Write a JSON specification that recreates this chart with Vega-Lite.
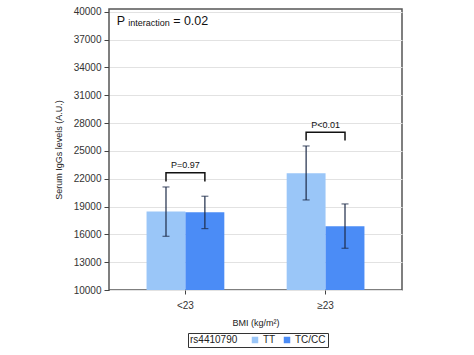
{
  "$schema": "https://vega.github.io/schema/vega-lite/v6.json",
  "width": 293,
  "height": 281,
  "autosize": {"type": "none"},
  "padding": {"left": 109, "top": 9, "right": 72, "bottom": 65},
  "background": "white",
  "config": {
    "font": "Liberation Sans",
    "view": {"stroke": "#555", "strokeWidth": 1.5},
    "axis": {"labelColor": "#333", "titleColor": "#222", "labelFontSize": 10, "titleFontSize": 9, "titleFontWeight": "normal", "domain": false, "tickColor": "#444"},
    "axisY": {"grid": true, "gridColor": "#e2e2e2", "labelOverlap": false, "format": "d", "tickSize": 5, "labelPadding": 3, "titlePadding": 10},
    "axisX": {"labelAngle": 0, "labelPadding": 6, "tickSize": 4, "titlePadding": 8, "grid": false}
  },
  "datasets": {
    "bars": [
      {"bmi": "<23", "geno": "TT", "mean": 18460, "lo": 15790, "hi": 21110},
      {"bmi": "<23", "geno": "TC/CC", "mean": 18380, "lo": 16620, "hi": 20110},
      {"bmi": "≥23", "geno": "TT", "mean": 22590, "lo": 19710, "hi": 25530},
      {"bmi": "≥23", "geno": "TC/CC", "mean": 16870, "lo": 14500, "hi": 19280}
    ],
    "brackets": [
      {"bmi": "<23", "geno": "TT", "ord": 1, "val": 21700},
      {"bmi": "<23", "geno": "TT", "ord": 2, "val": 22640},
      {"bmi": "<23", "geno": "TC/CC", "ord": 3, "val": 22640},
      {"bmi": "<23", "geno": "TC/CC", "ord": 4, "val": 21700},
      {"bmi": "≥23", "geno": "TT", "ord": 1, "val": 26120},
      {"bmi": "≥23", "geno": "TT", "ord": 2, "val": 27010},
      {"bmi": "≥23", "geno": "TC/CC", "ord": 3, "val": 27010},
      {"bmi": "≥23", "geno": "TC/CC", "ord": 4, "val": 26120}
    ],
    "plabels": [
      {"bmi": "<23", "val": 23460, "label": "P=0.97"},
      {"bmi": "≥23", "val": 27840, "label": "P<0.01"}
    ]
  },
  "layer": [
    {
      "data": {"name": "bars"},
      "mark": {"type": "bar", "clip": true},
      "encoding": {
        "x": {"field": "bmi", "type": "nominal", "sort": ["<23", "≥23"],
              "scale": {"paddingInner": 0.445, "paddingOuter": 0.268},
              "axis": {"title": "BMI (kg/m²)"}},
        "xOffset": {"field": "geno", "type": "nominal", "sort": ["TT", "TC/CC"], "scale": {"paddingInner": 0, "paddingOuter": 0}},
        "y": {"field": "mean", "type": "quantitative",
              "scale": {"domain": [10000, 40300], "nice": false, "zero": false},
              "axis": {"title": "Serum IgGs levels (A.U.)", "values": [10000, 13000, 16000, 19000, 22000, 25000, 28000, 31000, 34000, 37000, 40000], "labelOverlap": false, "grid": true}},
        "color": {"field": "geno", "type": "nominal", "sort": ["TT", "TC/CC"],
                  "scale": {"domain": ["TT", "TC/CC"], "range": ["#9ac6f8", "#4b8cf6"]},
                  "legend": {"title": "rs4410790", "orient": "none", "legendX": 79, "legendY": 324, "direction": "horizontal", "titleOrient": "left", "titleFontSize": 10, "titleFontWeight": "normal", "titleColor": "#222", "labelFontSize": 10, "labelColor": "#222", "symbolType": "square", "symbolSize": 42, "symbolStrokeWidth": 0, "strokeColor": "#333", "padding": 2, "columnPadding": 6, "titlePadding": 12, "labelOffset": 3}}
      }
    },
    {
      "data": {"name": "bars"},
      "mark": {"type": "rule", "color": "#1d2b48", "strokeWidth": 1.2},
      "encoding": {
        "x": {"field": "bmi", "type": "nominal", "sort": ["<23", "≥23"], "axis": {"title": "BMI (kg/m²)"}},
        "xOffset": {"field": "geno", "type": "nominal", "sort": ["TT", "TC/CC"]},
        "y": {"field": "lo", "type": "quantitative", "axis": {"title": "Serum IgGs levels (A.U.)", "values": [10000, 13000, 16000, 19000, 22000, 25000, 28000, 31000, 34000, 37000, 40000], "labelOverlap": false, "grid": true}},
        "y2": {"field": "hi"}
      }
    },
    {
      "data": {"name": "bars"},
      "mark": {"type": "tick", "orient": "horizontal", "color": "#1d2b48", "size": 7, "thickness": 1.2},
      "encoding": {
        "x": {"field": "bmi", "type": "nominal", "sort": ["<23", "≥23"], "axis": {"title": "BMI (kg/m²)"}},
        "xOffset": {"field": "geno", "type": "nominal", "sort": ["TT", "TC/CC"]},
        "y": {"field": "lo", "type": "quantitative", "axis": {"title": "Serum IgGs levels (A.U.)", "values": [10000, 13000, 16000, 19000, 22000, 25000, 28000, 31000, 34000, 37000, 40000], "labelOverlap": false, "grid": true}}
      }
    },
    {
      "data": {"name": "bars"},
      "mark": {"type": "tick", "orient": "horizontal", "color": "#1d2b48", "size": 7, "thickness": 1.2},
      "encoding": {
        "x": {"field": "bmi", "type": "nominal", "sort": ["<23", "≥23"], "axis": {"title": "BMI (kg/m²)"}},
        "xOffset": {"field": "geno", "type": "nominal", "sort": ["TT", "TC/CC"]},
        "y": {"field": "hi", "type": "quantitative", "axis": {"title": "Serum IgGs levels (A.U.)", "values": [10000, 13000, 16000, 19000, 22000, 25000, 28000, 31000, 34000, 37000, 40000], "labelOverlap": false, "grid": true}}
      }
    },
    {
      "data": {"name": "brackets"},
      "mark": {"type": "line", "color": "#111", "strokeWidth": 1.5},
      "encoding": {
        "x": {"field": "bmi", "type": "nominal", "sort": ["<23", "≥23"], "axis": {"title": "BMI (kg/m²)"}},
        "xOffset": {"field": "geno", "type": "nominal", "sort": ["TT", "TC/CC"]},
        "y": {"field": "val", "type": "quantitative", "axis": {"title": "Serum IgGs levels (A.U.)", "values": [10000, 13000, 16000, 19000, 22000, 25000, 28000, 31000, 34000, 37000, 40000], "labelOverlap": false, "grid": true}},
        "detail": {"field": "bmi"},
        "order": {"field": "ord", "type": "quantitative"}
      }
    },
    {
      "data": {"name": "plabels"},
      "mark": {"type": "text", "fontSize": 9, "color": "#111", "baseline": "middle"},
      "encoding": {
        "x": {"field": "bmi", "type": "nominal", "sort": ["<23", "≥23"], "axis": {"title": "BMI (kg/m²)"}},
        "y": {"field": "val", "type": "quantitative", "axis": {"title": "Serum IgGs levels (A.U.)", "values": [10000, 13000, 16000, 19000, 22000, 25000, 28000, 31000, 34000, 37000, 40000], "labelOverlap": false, "grid": true}},
        "text": {"field": "label"}
      }
    },
    {
      "data": {"values": [{"bmi": "<23", "val": 38534}]},
      "layer": [
        {"mark": {"type": "text", "text": "P", "fontSize": 12.5, "align": "left", "baseline": "alphabetic", "dx": -68.8, "color": "#111"},
         "encoding": {"x": {"field": "bmi", "type": "nominal", "sort": ["<23", "≥23"], "axis": {"title": "BMI (kg/m²)"}}, "y": {"field": "val", "type": "quantitative", "axis": {"title": "Serum IgGs levels (A.U.)", "values": [10000, 13000, 16000, 19000, 22000, 25000, 28000, 31000, 34000, 37000, 40000], "labelOverlap": false, "grid": true}}}},
        {"mark": {"type": "text", "text": "interaction", "fontSize": 9, "align": "left", "baseline": "alphabetic", "dx": -57.3, "dy": 1, "color": "#111"},
         "encoding": {"x": {"field": "bmi", "type": "nominal", "sort": ["<23", "≥23"], "axis": {"title": "BMI (kg/m²)"}}, "y": {"field": "val", "type": "quantitative", "axis": {"title": "Serum IgGs levels (A.U.)", "values": [10000, 13000, 16000, 19000, 22000, 25000, 28000, 31000, 34000, 37000, 40000], "labelOverlap": false, "grid": true}}}},
        {"mark": {"type": "text", "text": "= 0.02", "fontSize": 12.5, "align": "left", "baseline": "alphabetic", "dx": -12.3, "color": "#111"},
         "encoding": {"x": {"field": "bmi", "type": "nominal", "sort": ["<23", "≥23"], "axis": {"title": "BMI (kg/m²)"}}, "y": {"field": "val", "type": "quantitative", "axis": {"title": "Serum IgGs levels (A.U.)", "values": [10000, 13000, 16000, 19000, 22000, 25000, 28000, 31000, 34000, 37000, 40000], "labelOverlap": false, "grid": true}}}}
      ]
    }
  ]
}
